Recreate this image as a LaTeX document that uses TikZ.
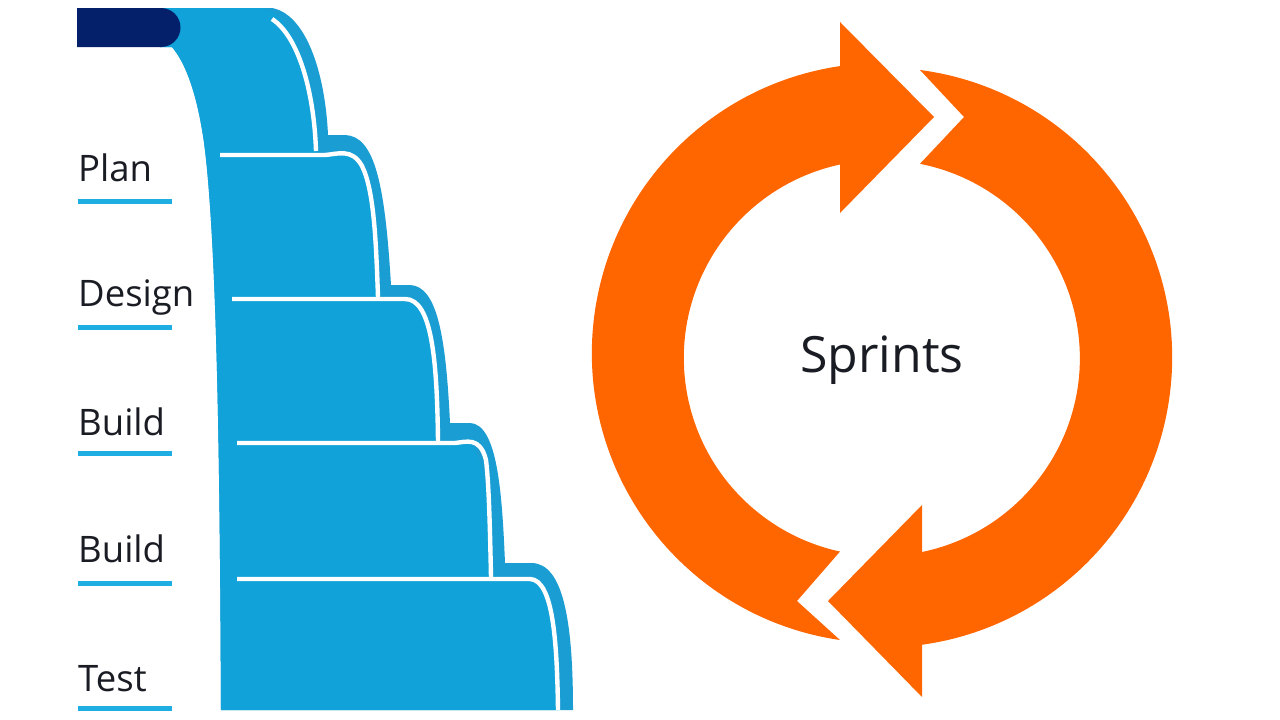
\documentclass[tikz,border=0pt]{standalone}
\usepackage{fontspec}
\setmainfont{Open Sans}
\definecolor{bandblue}{HTML}{1A9DD3}
\definecolor{mainblue}{HTML}{10A2D8}
\definecolor{navy}{HTML}{04206B}
\definecolor{rule}{HTML}{1EAEE2}
\definecolor{sprintorange}{HTML}{FF6600}
\definecolor{ink}{HTML}{1A1C24}
\tikzset{
  lbl/.style={anchor=base west,inner sep=0pt,text=ink,font=\fontsize{36.5}{37}\selectfont},
  underrule/.style={draw=rule,line width=5pt},
  whiteline/.style={draw=white,line width=4.4pt,line cap=butt},
  ring/.style={fill=sprintorange}
}
\begin{document}
\begin{tikzpicture}[x=1pt,y=-1pt]
\useasboundingbox (0,0) rectangle (1280,720);
\fill[white] (0,0) rectangle (1280,720);
% staircase
\fill[bandblue] (160,8) -- (272,8)
  .. controls (305,14) and (325,70) .. (328,135)
  -- (345,135) .. controls (375,136) and (385,185) .. (391,285)
  -- (410,285) .. controls (438,286) and (446,340) .. (450,423)
  -- (470,423) .. controls (497,424) and (502,490) .. (505,563)
  -- (532,563) .. controls (563,564) and (573,620) .. (573,710)
  -- (221,710) .. controls (220,500) and (218,260) .. (205,150)
  .. controls (200,110) and (190,68) .. (172,47) -- (160,47) -- cycle;
\fill[mainblue] (160,8) -- (262,8)
  .. controls (295,14) and (314,80) .. (316,155)
  -- (340,155) .. controls (368,152) and (376,210) .. (378,299)
  -- (405,299) .. controls (432,300) and (437,360) .. (438,443)
  -- (460,443) .. controls (484,436) and (490,500) .. (491,579)
  -- (530,579) .. controls (553,580) and (557,640) .. (558,710)
  -- (221,710) .. controls (220,500) and (218,260) .. (205,150)
  .. controls (200,110) and (190,68) .. (172,47) -- (160,47) -- cycle;
\draw[whiteline] (272,19) .. controls (298,36) and (314,90) .. (316,151);
\draw[whiteline] (220,155) -- (325,155) .. controls (338,154) and (352,148) .. (362,166)
  .. controls (374,190) and (376,240) .. (378,297);
\draw[whiteline] (232,299) -- (405,299) .. controls (432,299) and (437,360) .. (438,441);
\draw[whiteline] (237,443) -- (455,443) .. controls (466,442) and (480,436) .. (486,460)
  .. controls (489,485) and (490,530) .. (491,577);
\draw[whiteline] (237,579) -- (530,579) .. controls (553,580) and (557,640) .. (558,710);
% navy cap
\fill[navy] (77,8) -- (161,8) arc[start angle=270,end angle=450,radius=19.5] -- (77,47) -- cycle;
% labels
\node[lbl] (plan) at (78,181) {Plan};
\node[lbl] (design) at (78,306) {Design};
\node[lbl] (build1) at (78,435) {Build};
\node[lbl] (build2) at (78,562) {Build};
\node[lbl] (testl) at (78,691) {Test};
\draw[underrule] (78,201) -- (172,201);
\draw[underrule] (78,327) -- (172,327);
\draw[underrule] (78,453) -- (172,453);
\draw[underrule] (78,583) -- (172,583);
\draw[underrule] (78,708) -- (172,708);
% circular arrows
\fill[ring] (840,640) arc[start angle=98.3,end angle=261.7,radius=290]
  -- (840,22) -- (934,117) -- (840,213) -- (840,164.5)
  arc[start angle=257.8,end angle=102.2,radius=198]
  -- (797,601) -- cycle;
\fill[ring] (920,70) arc[start angle=277.5,end angle=442.07,radius=290]
  -- (922,697) -- (828,601) -- (922,505) -- (922,552)
  arc[start angle=78.3,end angle=-78.9,radius=198]
  -- (964,117) -- cycle;
\node[inner sep=0pt,text=ink,font=\fontsize{50}{50}\selectfont] (sprints) at (882,360.5) {Sprints};
\end{tikzpicture}
\end{document}
